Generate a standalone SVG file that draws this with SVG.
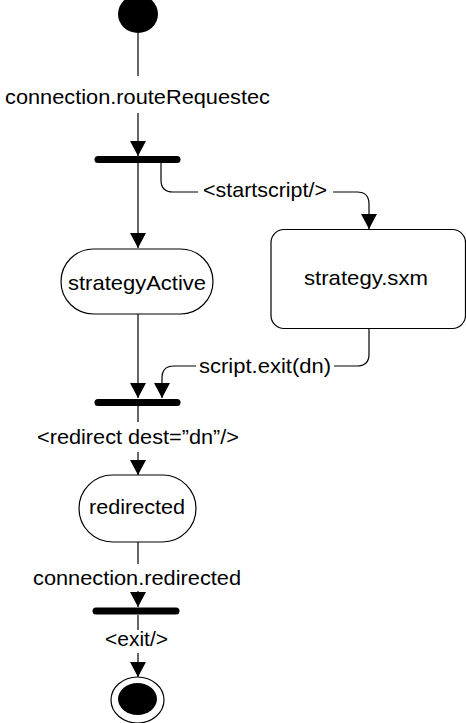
<svg xmlns="http://www.w3.org/2000/svg" width="466" height="723" viewBox="0 0 466 723">
<style>
.t{font-family:"Liberation Sans",Arial,sans-serif;font-size:21px;fill:#000}
.c{fill:none;stroke:#000;stroke-width:1.2}
.n{fill:#fff;stroke:#000;stroke-width:1.2}
.bar{stroke:#000;stroke-width:7;stroke-linecap:round}
</style>
<defs>
<marker id="a" markerWidth="16" markerHeight="16" refX="15" refY="8" orient="auto" markerUnits="userSpaceOnUse">
<path d="M0,0 L15,8 L0,16 Z" fill="#000"/>
</marker>
</defs>
<rect width="466" height="723" fill="#fff"/>
<g id="connectors">
<path class="c" d="M138,33 V76"/>
<path class="c" d="M138,113 V156" marker-end="url(#a)"/>
<path class="c" d="M138,163 V248" marker-end="url(#a)"/>
<path class="c" d="M161,163 V180 Q161,192 173,192 H198"/>
<path class="c" d="M333,192 H357 Q369,192 369,204 V229" marker-end="url(#a)"/>
<path class="c" d="M138,314 V398" marker-end="url(#a)"/>
<path class="c" d="M369,329 V354 Q369,366 357,366 H334"/>
<path class="c" d="M196,366 H174 Q162,366 162,378 V398" marker-end="url(#a)"/>
<path class="c" d="M138,406 V422"/>
<path class="c" d="M138,452 V475" marker-end="url(#a)"/>
<path class="c" d="M138,542 V564"/>
<path class="c" d="M138,591 V607" marker-end="url(#a)"/>
<path class="c" d="M138,615 V630"/>
<path class="c" d="M138,653 V677" marker-end="url(#a)"/>
</g>
<g id="labels">
<text class="t" x="5" y="104" textLength="265" lengthAdjust="spacingAndGlyphs">connection.routeRequestec</text>
<text class="t" x="203" y="197" textLength="124" lengthAdjust="spacingAndGlyphs">&lt;startscript/&gt;</text>
<text class="t" x="199" y="373" textLength="132" lengthAdjust="spacingAndGlyphs">script.exit(dn)</text>
<text class="t" x="37" y="444" textLength="202" lengthAdjust="spacingAndGlyphs">&lt;redirect dest=”dn”/&gt;</text>
<text class="t" x="33" y="585" textLength="208" lengthAdjust="spacingAndGlyphs">connection.redirected</text>
<text class="t" x="105" y="646" textLength="63" lengthAdjust="spacingAndGlyphs">&lt;exit/&gt;</text>
</g>
<g id="initial"><ellipse cx="138" cy="14" rx="20" ry="19" fill="#000"/></g>
<g id="fork1"><line class="bar" x1="98" y1="159.5" x2="177" y2="159.5"/></g>
<g id="strategyActive">
<rect class="n" x="61" y="249" width="152" height="65" rx="32.5"/>
<text class="t" x="68" y="290" textLength="138" lengthAdjust="spacingAndGlyphs">strategyActive</text>
</g>
<g id="strategySxm">
<rect class="n" x="271" y="229.5" width="194.5" height="99" rx="13"/>
<text class="t" x="304" y="285" textLength="124" lengthAdjust="spacingAndGlyphs">strategy.sxm</text>
</g>
<g id="join"><line class="bar" x1="98" y1="402.5" x2="177" y2="402.5"/></g>
<g id="redirected">
<rect class="n" x="79" y="475" width="117" height="67" rx="33.5"/>
<text class="t" x="89" y="514" textLength="96" lengthAdjust="spacingAndGlyphs">redirected</text>
</g>
<g id="bar3"><line class="bar" x1="96" y1="611" x2="176" y2="611"/></g>
<g id="final">
<ellipse class="n" cx="137.5" cy="700" rx="26.5" ry="23"/>
<ellipse cx="137.5" cy="699" rx="19.5" ry="16" fill="#000"/>
</g>
</svg>
